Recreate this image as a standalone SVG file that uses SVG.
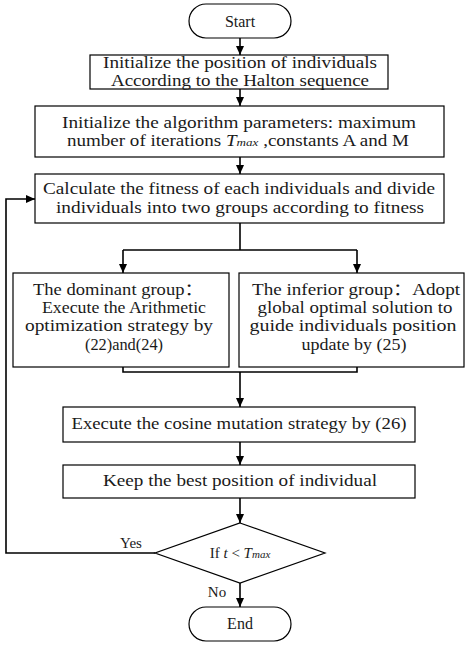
<svg xmlns="http://www.w3.org/2000/svg" width="474" height="645" viewBox="0 0 474 645">
<defs>
<style>
.box{fill:#fff;stroke:#000;stroke-width:1.2}
.ln{fill:none;stroke:#000;stroke-width:1.6}
.t{font-family:"Liberation Serif","Noto Sans CJK SC",serif;font-size:16px;fill:#1a1a1a;text-anchor:middle}
.s{font-family:"Liberation Serif",serif;font-size:15px;fill:#1a1a1a;text-anchor:middle}
.i{font-style:italic}
.sub{font-style:italic;font-size:11px}
</style>
<marker id="ah" markerWidth="10" markerHeight="10" refX="9" refY="5" orient="auto" markerUnits="userSpaceOnUse">
<path d="M0,1 L9,5 L0,9 Z" fill="#000"/>
</marker>
</defs>
<rect width="474" height="645" fill="#fff"/>
<g id="connectors">
<line class="ln" x1="240" y1="38" x2="240" y2="55" marker-end="url(#ah)"/>
<line class="ln" x1="240" y1="89" x2="240" y2="106" marker-end="url(#ah)"/>
<line class="ln" x1="240" y1="157" x2="240" y2="174" marker-end="url(#ah)"/>
<polyline class="ln" points="240,223 240,250"/>
<polyline class="ln" points="123,250 357,250"/>
<line class="ln" x1="123" y1="250" x2="123" y2="273" marker-end="url(#ah)"/>
<line class="ln" x1="357" y1="250" x2="357" y2="273" marker-end="url(#ah)"/>
<polyline class="ln" points="123,367 123,372 357,372 357,367"/>
<line class="ln" x1="240" y1="372" x2="240" y2="407" marker-end="url(#ah)"/>
<line class="ln" x1="240" y1="442" x2="240" y2="465" marker-end="url(#ah)"/>
<line class="ln" x1="240" y1="498" x2="240" y2="523" marker-end="url(#ah)"/>
<polyline class="ln" points="155,553 6,553 6,199 35,199" marker-end="url(#ah)"/>
<line class="ln" x1="240" y1="583" x2="240" y2="607" marker-end="url(#ah)"/>
<text class="s" x="131" y="548">Yes</text>
<text class="s" x="217" y="597">No</text>
</g>
<g id="start">
<rect class="box" x="189" y="4" width="102" height="34" rx="17"/>
<text class="s" x="240" y="27" style="font-size:16px">Start</text>
</g>
<g id="init-position">
<rect class="box" x="90" y="55" width="298" height="34"/>
<text class="t" x="240" y="68" textLength="274" lengthAdjust="spacingAndGlyphs">Initialize the position of individuals</text>
<text class="t" x="240" y="85.5" textLength="258" lengthAdjust="spacingAndGlyphs">According to the Halton sequence</text>
</g>
<g id="init-params">
<rect class="box" x="35" y="106" width="409" height="51"/>
<text class="t" x="239" y="128" textLength="354" lengthAdjust="spacingAndGlyphs">Initialize the algorithm parameters: maximum</text>
<text class="t" x="238" y="146" textLength="342" lengthAdjust="spacingAndGlyphs">number of iterations <tspan class="i">T</tspan><tspan class="sub">max</tspan> ,constants A and M</text>
</g>
<g id="fitness">
<rect class="box" x="35" y="174" width="409" height="49"/>
<text class="t" x="239" y="194" textLength="392" lengthAdjust="spacingAndGlyphs">Calculate the fitness of each individuals and divide</text>
<text class="t" x="240" y="213" textLength="368" lengthAdjust="spacingAndGlyphs">individuals into two groups according to fitness</text>
</g>
<g id="dominant">
<rect class="box" x="13" y="273" width="216" height="94"/>
<text class="t" x="118" y="295" textLength="170" lengthAdjust="spacingAndGlyphs">The dominant group：</text>
<text class="t" x="124" y="313" textLength="164" lengthAdjust="spacingAndGlyphs">Execute the Arithmetic</text>
<text class="t" x="119" y="331" textLength="188" lengthAdjust="spacingAndGlyphs">optimization strategy by</text>
<text class="t" x="124" y="350" textLength="78" lengthAdjust="spacingAndGlyphs">(22)and(24)</text>
</g>
<g id="inferior">
<rect class="box" x="239" y="273" width="225" height="94"/>
<text class="t" x="356" y="295" textLength="208" lengthAdjust="spacingAndGlyphs">The inferior group：Adopt</text>
<text class="t" x="355" y="313" textLength="195" lengthAdjust="spacingAndGlyphs">global optimal solution to</text>
<text class="t" x="353" y="331" textLength="207" lengthAdjust="spacingAndGlyphs">guide individuals position</text>
<text class="t" x="354" y="350" textLength="105" lengthAdjust="spacingAndGlyphs">update by (25)</text>
</g>
<g id="cosine">
<rect class="box" x="63" y="407" width="352" height="35"/>
<text class="t" x="239" y="429" textLength="335" lengthAdjust="spacingAndGlyphs">Execute the cosine mutation strategy by (26)</text>
</g>
<g id="keep-best">
<rect class="box" x="63" y="465" width="352" height="33"/>
<text class="t" x="240" y="486" textLength="274" lengthAdjust="spacingAndGlyphs">Keep the best position of individual</text>
</g>
<g id="decision">
<polygon class="box" points="240,523 325,553 240,583 155,553"/>
<text class="s" x="240" y="558">If <tspan class="i">t</tspan> &lt; <tspan class="i">T</tspan><tspan class="sub">max</tspan></text>
</g>
<g id="end">
<rect class="box" x="189" y="607" width="102" height="34" rx="17"/>
<text class="s" x="240" y="629" style="font-size:16px">End</text>
</g>
</svg>
